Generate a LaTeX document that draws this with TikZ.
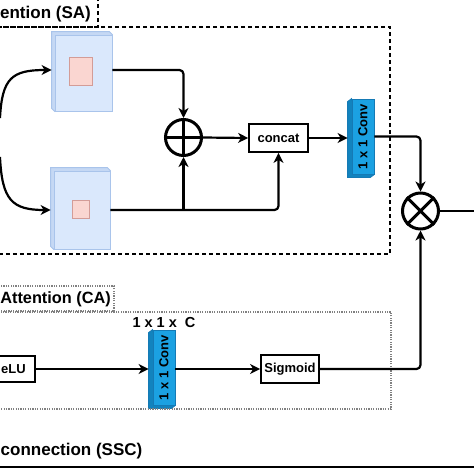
\documentclass[tikz,border=0pt]{standalone}
\usepackage{fontspec}
\setmainfont{Liberation Sans}
\usetikzlibrary{arrows.meta}
\usetikzlibrary{calc}
\usetikzlibrary{positioning}
\usetikzlibrary{backgrounds}

\definecolor{mapblue}{HTML}{DAE8FC}
\definecolor{mapside}{HTML}{C5D8F4}
\definecolor{mapedge}{HTML}{A9C4EB}
\definecolor{pinkfill}{HTML}{FAD6D1}
\definecolor{pinkedge}{HTML}{D39C97}
\definecolor{convblue}{HTML}{1BA1E2}
\definecolor{convside}{HTML}{1283BE}
\definecolor{convedge}{HTML}{157AB5}

\begin{document}
\begin{tikzpicture}[x = 1pt, y = -1pt,
	font = \bfseries\fontsize{13}{15}\selectfont,
	>={Stealth[length = 10pt, width = 10pt, inset = 3pt]}]
		\useasboundingbox (0, 0) rectangle (474, 474);
		
		% frames
		\draw [line width = 1.4pt, dash pattern = on 4pt off 3pt]
		(-5, -5) rectangle (98, 27)
		(-5, 27) rectangle (390, 254);
		\draw [line width = 1.2pt, gray, dash pattern = on 1.2pt off 1.2pt]
		(-5, 286) rectangle (114, 311)
		(-5, 312) rectangle (391, 409);
		\draw [line width = 2.6pt] (-5, 467) -- (479, 467);
		
		\begin{scope}[every node/.style = {inner sep = 0pt, font = \bfseries\fontsize{17}{20}\selectfont}]
		\node (20) [anchor = east] at (91, 14) {ention (SA)};
		\node (21) [anchor = east, font = \bfseries\fontsize{16.3}{20}\selectfont] at (111, 299) {Attention (CA)};
		\node (22) [anchor = west] at (0.5, 451) {connection (SSC)};
		\end{scope}
		
		% feature maps
		\begin{scope}[every node/.style = {rectangle, draw = mapedge, fill = mapblue, line width = 0.8pt}]
		\node (1) [minimum width = 57pt, minimum height = 76pt] at (83.5, 73) {};
		\node (2) [minimum width = 56pt, minimum height = 78pt] at (82, 210) {};
		\end{scope}
		
		\begin{scope}[every node/.style = {rectangle, draw = pinkedge, fill = pinkfill, line width = 0.8pt}]
		\node (1a) [minimum width = 23pt, minimum height = 28pt] at (80.5, 71.5) {};
		\node (2a) [minimum width = 17pt, minimum height = 18pt] at (80.5, 209) {};
		\end{scope}
		
		% conv blocks
		\begin{scope}[every node/.style = {rectangle, draw = convedge, fill = convblue, line width = 0.8pt,
			minimum width = 22pt, inner sep = 0pt}]
		\node (7) [minimum height = 75pt] at (363, 136.5) {\rotatebox{90}{1 x 1 Conv}};
		\node (8) [minimum height = 75pt] at (164, 367.5) {\rotatebox{90}{1 x 1 Conv}};
		\end{scope}
		\node (9) [above = 1pt of 8, inner sep = 1pt, font = \bfseries\fontsize{14.5}{16}\selectfont] {1 x 1 x\ \ C};
		
		\begin{scope}[on background layer]
		\foreach \n in {1, 2}
		\draw [draw = mapedge, fill = mapside, line width = 0.8pt]
		(\n.south west) -- ++(-3, -3) -- ($(\n.north west) + (-3, -3)$) --
		($(\n.north east) + (-3, -3)$) -- (\n.north east) -- cycle;
		\foreach \n in {7, 8}
		\draw [draw = convedge, fill = convside, line width = 0.8pt]
		(\n.north west) -- ++(-4, 3) -- ($(\n.south west) + (-4, 3)$) --
		($(\n.south east) + (-4, 3)$) -- (\n.south east) -- cycle;
		\end{scope}
		
		% boxes
		\begin{scope}[every node/.style = {rectangle, draw, line width = 1.8pt, minimum height = 28pt}]
		\node (4) [minimum width = 59pt] at (278.5, 138) {concat};
		\node (5) [minimum width = 58pt] at (290, 369) {Sigmoid};
		\end{scope}
		\node (6) [anchor = east, inner sep = 0pt] at (26, 369) {eLU};
		\draw [line width = 1.8pt] (-5, 356) -| ($(6.east) + (9, 0)$) |- (-5, 382);
		
		\begin{scope}[every node/.style = {circle, draw, line width = 3pt, minimum size = 36pt}]
		\node (3) at (183.5, 137.5) {};
		\node (12) at (420.5, 211) {};
		\end{scope}
		\draw [line width = 3pt] (3.north) -- (3.south) (3.west) -- (3.east);
		\draw [line width = 3pt] (12.north east) -- (12.south west) (12.north west) -- (12.south east);
		
		\coordinate (10) at (0, 118);
		\coordinate (11) at (0, 157);
		\coordinate (13) at (480, 211);
		
		% connectors
		\begin{scope}[line width = 2.2pt, rounded corners = 4pt]
		\draw [->] (10) .. controls (2, 78) and (12, 70) .. ([xshift = -3pt, yshift = 3pt]1.west);
		\draw [->] (11) .. controls (2, 200) and (12, 210) .. ([xshift = -3pt]2.west);
		\draw [->] ([yshift = 3pt]1.east) -| (3.north);
		\draw [->] (2.east) -| (4.south);
		\draw [->] (2.east -| 3) -- (3.south);
		\draw [->] (3.east) -- (4.west);
		\draw [->] (4.east) -- ([xshift = -4pt]4.east -| 7.west);
		\draw [->] (7.east) -| (12.north);
		\draw (12.east) -- (13);
		\draw [->] (5.east) -| (12.south);
		\draw [->] ($(6.east) + (10, 0)$) -- ([xshift = -4pt]6.east -| 8.west);
		\draw [->] (8.east |- 5.west) -- (5.west);
		\end{scope}
		
\end{tikzpicture}
\end{document}
